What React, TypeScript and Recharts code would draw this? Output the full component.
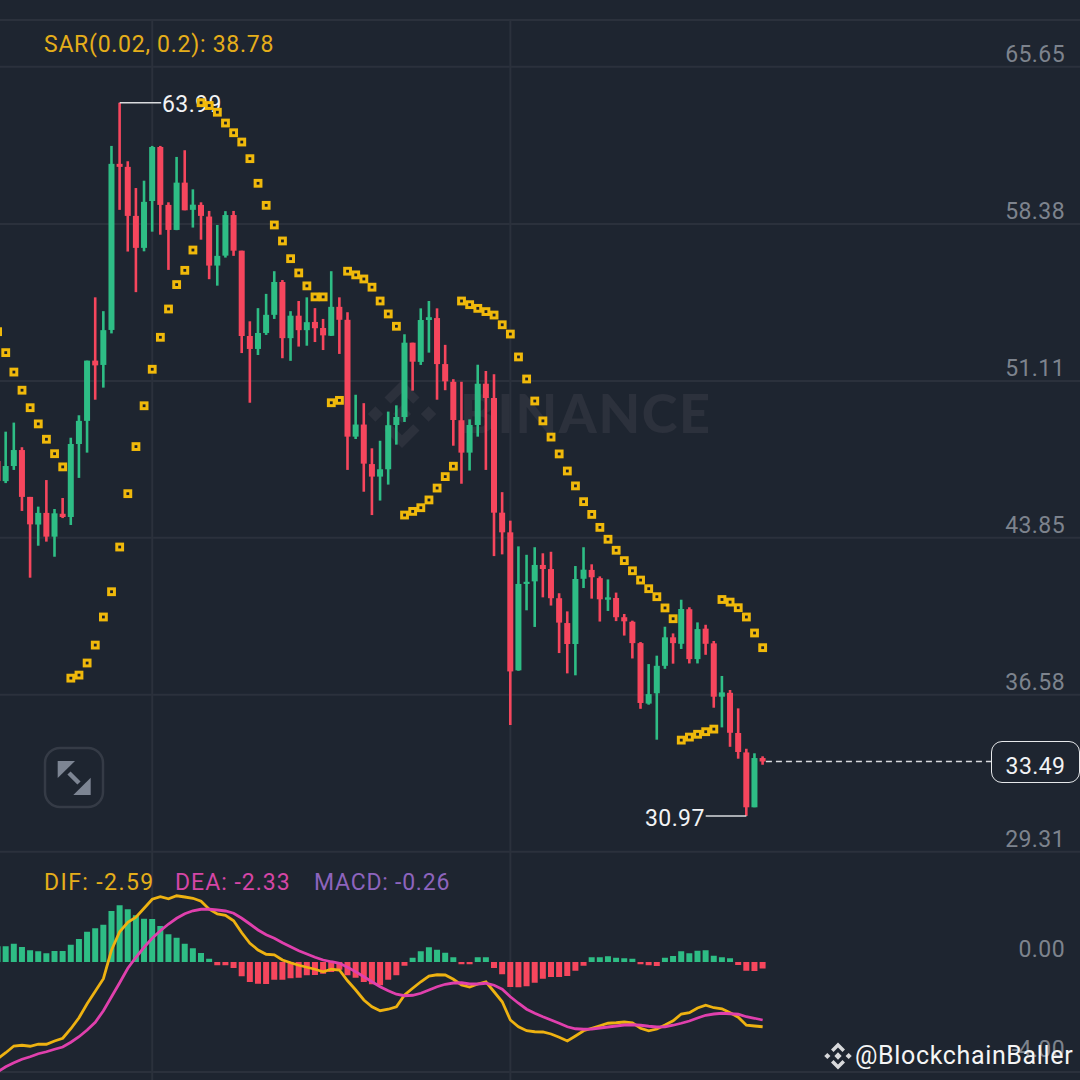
/**
 * Perp candlestick screenshot: price + SAR on top, MACD panel underneath
 */

import React from 'react';
import {
  ComposedChart,
  Bar,
  Cell,
  Line,
  XAxis,
  YAxis,
  CartesianGrid,
  ReferenceLine,
} from 'recharts';

const opens = [
  47.40,
  46.47, 47.17, 47.91, 45.74, 44.46, 45.00, 43.90, 44.96, 44.81,
  48.19, 49.26, 52.05, 51.85, 53.47, 61.16, 61.02, 58.75, 57.27, 59.44,
  61.94, 59.26, 58.10, 60.29, 59.03, 59.26, 58.72, 56.45, 56.91, 58.79,
  57.14, 53.19, 52.59, 53.33, 54.17, 55.69, 53.09, 54.13, 53.46, 53.84,
  53.56, 53.20, 54.54, 53.94, 48.53, 49.09, 47.26, 46.68, 47.02, 49.07,
  49.44, 52.88, 51.99, 53.93, 54.02, 51.89, 51.07, 49.29, 47.79, 49.07,
  50.98, 50.32, 45.01, 44.10, 37.71, 41.71, 41.83, 42.59, 42.40, 41.05,
  39.90, 38.93, 41.95, 42.36, 41.98, 40.98, 41.06, 40.17, 39.96, 38.97,
  36.17, 36.65, 37.92, 39.24, 38.94, 40.54, 38.23, 39.64, 38.96, 36.49,
  36.67, 34.81, 33.91, 31.37, 33.65,
];

const closes = [
  46.48,
  47.17, 47.91, 45.74, 44.47, 45.00, 43.90, 44.98, 44.81, 48.19,
  49.26, 52.05, 51.83, 53.46, 61.16, 61.02, 58.75, 57.27, 59.40, 61.94,
  59.26, 58.10, 60.29, 59.01, 59.27, 58.75, 56.45, 56.90, 58.79, 57.14,
  53.19, 52.59, 53.33, 54.17, 55.69, 53.09, 54.13, 53.46, 53.83, 53.55,
  53.22, 54.54, 53.94, 48.53, 49.09, 47.28, 46.68, 47.02, 49.06, 49.44,
  52.88, 52.00, 53.93, 54.06, 51.89, 51.09, 49.30, 47.79, 49.07, 50.98,
  50.32, 45.01, 44.10, 37.66, 41.71, 41.81, 42.59, 42.40, 41.05, 39.92,
  38.93, 41.94, 42.37, 42.02, 41.00, 41.09, 40.17, 39.98, 38.97, 36.20,
  36.61, 37.92, 39.24, 38.97, 40.55, 38.23, 39.62, 38.94, 36.49, 36.69,
  34.82, 33.93, 31.37, 33.65, 33.49,
];

const highs = [
  47.54,
  48.76, 49.18, 48.04, 45.74, 45.29, 46.52, 45.18, 45.69, 48.48,
  49.52, 52.05, 54.98, 54.34, 61.99, 63.99, 61.28, 60.04, 60.38, 61.99,
  61.99, 59.38, 61.48, 61.79, 59.98, 59.38, 58.98, 58.33, 58.97, 58.98,
  57.14, 53.87, 54.48, 55.14, 56.19, 55.78, 54.34, 54.81, 54.98, 54.48,
  53.98, 56.19, 54.98, 54.29, 50.47, 50.08, 47.99, 48.34, 49.69, 49.98,
  53.27, 52.88, 54.47, 54.81, 54.47, 52.78, 51.19, 51.07, 49.33, 51.86,
  51.57, 51.42, 45.96, 44.64, 43.45, 43.06, 43.41, 43.13, 43.20, 41.28,
  40.44, 42.54, 43.41, 42.62, 42.06, 41.92, 41.31, 40.32, 40.01, 39.02,
  38.00, 38.39, 39.73, 39.42, 40.98, 40.63, 39.93, 39.82, 39.07, 37.45,
  36.80, 35.95, 34.08, 33.87, 33.73,
];

const lows = [
  46.34,
  46.38, 46.99, 45.09, 42.00, 43.48, 43.67, 42.97, 44.76, 44.44,
  46.62, 47.79, 50.24, 50.80, 53.31, 59.03, 57.10, 55.22, 57.11, 58.02,
  57.88, 56.25, 58.09, 59.01, 58.21, 57.65, 55.82, 55.52, 56.82, 56.90,
  52.40, 50.10, 52.31, 53.24, 53.98, 52.16, 52.04, 52.70, 52.74, 52.91,
  52.54, 53.19, 52.36, 46.99, 48.42, 45.98, 44.90, 45.57, 46.31, 48.16,
  49.21, 50.66, 51.85, 52.42, 50.24, 50.68, 48.11, 46.35, 46.96, 48.53,
  46.99, 43.00, 43.08, 35.18, 37.69, 40.49, 39.72, 41.09, 40.71, 38.51,
  37.57, 37.48, 41.52, 41.03, 39.97, 40.46, 39.99, 39.32, 38.26, 35.93,
  36.12, 34.50, 37.78, 38.02, 38.70, 38.03, 38.03, 38.43, 35.98, 35.07,
  34.17, 33.62, 30.97, 31.37, 33.34,
];

const sar = [
  53.39,
  52.42, 51.52, 50.68, 49.87, 49.12, 48.41, 47.74, 47.13, 37.35,
  37.49, 38.05, 38.88, 40.18, 41.35, 43.42, 45.89, 48.07, 49.96, 51.65,
  53.13, 54.44, 55.57, 56.23, 57.17, 63.99, 63.86, 63.55, 63.05, 62.60,
  62.17, 61.40, 60.26, 59.24, 58.33, 57.59, 56.77, 56.11, 55.51, 55.00,
  55.00, 50.10, 50.21, 56.19, 56.02, 55.83, 55.45, 54.81, 54.21, 53.64,
  44.90, 45.07, 45.24, 45.60, 46.15, 46.68, 47.16, 54.81, 54.64, 54.47,
  54.32, 54.16, 53.71, 53.28, 52.22, 51.20, 50.18, 49.26, 48.51, 47.73,
  46.94, 46.25, 45.52, 44.93, 44.33, 43.78, 43.27, 42.79, 42.32, 41.89,
  41.49, 41.12, 40.60, 40.10, 34.48, 34.62, 34.75, 34.87, 34.99, 40.99,
  40.87, 40.61, 40.18, 39.44, 38.76,
];

const macd = [
  0.63,
  0.63, 0.73, 0.60, 0.47, 0.43, 0.35, 0.44, 0.44, 0.69,
  0.92, 1.21, 1.35, 1.49, 2.04, 2.27, 2.11, 1.87, 1.73, 1.72,
  1.44, 1.11, 0.97, 0.73, 0.55, 0.36, 0.13, -0.13, -0.13, -0.24,
  -0.57, -0.80, -0.87, -0.88, -0.71, -0.71, -0.65, -0.63, -0.53, -0.52,
  -0.47, -0.40, -0.31, -0.53, -0.63, -0.80, -0.89, -0.93, -0.71, -0.53,
  -0.15, 0.17, 0.43, 0.59, 0.49, 0.37, 0.19, -0.09, -0.09, 0.19,
  0.19, -0.24, -0.49, -1.00, -1.01, -0.97, -0.83, -0.67, -0.60, -0.60,
  -0.56, -0.35, -0.15, 0.19, 0.19, 0.23, 0.17, 0.15, 0.13, -0.09,
  -0.13, -0.16, 0.17, 0.24, 0.43, 0.35, 0.45, 0.47, 0.25, 0.19,
  0.15, -0.12, -0.35, -0.36, -0.26,
];

const dif = [
  -3.87,
  -3.63, -3.36, -3.33, -3.37, -3.29, -3.29, -3.16, -3.05, -2.67,
  -2.23, -1.67, -1.17, -0.67, 0.48, 1.21, 1.59, 1.79, 2.15, 2.51,
  2.61, 2.53, 2.65, 2.60, 2.55, 2.43, 2.11, 1.92, 1.87, 1.65,
  1.17, 0.75, 0.48, 0.31, 0.29, 0.08, -0.03, -0.13, -0.21, -0.29,
  -0.39, -0.29, -0.32, -0.75, -1.12, -1.52, -1.79, -1.95, -1.89, -1.79,
  -1.32, -1.05, -0.79, -0.56, -0.51, -0.52, -0.69, -0.92, -1.00, -0.88,
  -0.79, -1.19, -1.59, -2.32, -2.59, -2.75, -2.79, -2.80, -2.88, -3.01,
  -3.16, -2.96, -2.75, -2.65, -2.55, -2.45, -2.43, -2.40, -2.43, -2.65,
  -2.75, -2.68, -2.52, -2.35, -2.08, -2.03, -1.84, -1.73, -1.83, -1.87,
  -2.03, -2.21, -2.53, -2.56, -2.59,
];

const dea = [
  -4.39,
  -4.19, -4.03, -3.89, -3.79, -3.67, -3.59, -3.49, -3.40, -3.21,
  -2.99, -2.72, -2.41, -1.95, -1.39, -0.83, -0.25, 0.19, 0.59, 0.95,
  1.25, 1.52, 1.75, 1.93, 2.05, 2.11, 2.11, 2.08, 2.04, 1.95,
  1.75, 1.52, 1.28, 1.09, 0.95, 0.77, 0.61, 0.45, 0.32, 0.19,
  0.08, 0.01, -0.05, -0.21, -0.39, -0.59, -0.79, -0.99, -1.15, -1.29,
  -1.35, -1.33, -1.25, -1.12, -0.99, -0.89, -0.84, -0.83, -0.88, -0.88,
  -0.85, -0.93, -1.09, -1.39, -1.65, -1.89, -2.05, -2.19, -2.32, -2.45,
  -2.59, -2.67, -2.69, -2.68, -2.64, -2.60, -2.56, -2.52, -2.51, -2.53,
  -2.57, -2.60, -2.59, -2.53, -2.45, -2.36, -2.24, -2.13, -2.08, -2.05,
  -2.07, -2.09, -2.19, -2.25, -2.32,
];

const priceTicks = [65.65, 58.38, 51.11, 43.85, 36.58, 29.31];
const priceGrid = [67.82, 65.65, 58.38, 51.11, 43.85, 36.58, 29.31];
const macdTicks = [0, -4];
const macdGrid = [-4.4];
const timeGrid = [19, 63];
const lastPrice = 33.49;
const highPrice = 63.99;
const lowPrice = 30.97;

const rows = opens.map((open, i) => ({
  i,
  open,
  close: closes[i],
  high: highs[i],
  low: lows[i],
  sar: sar[i],
  macd: macd[i],
  dif: dif[i],
  dea: dea[i],
}));

const COLORS = {
  bg: '#1e2530',
  grid: '#2b313c',
  up: '#2ebd85',
  down: '#f6465d',
  sar: '#f0b90b',
  dif: '#eeb211',
  dea: '#e040ad',
  axis: '#7d838d',
};

const FONT = 'Roboto, sans-serif';
const X_DOMAIN: [number, number] = [0.295, 132.99];

function Candle(props: any) {
  const { x, y, width, height, payload } = props;
  const cx = x + width / 2;
  const scale = height / (payload.high - payload.low);
  const top = y + (payload.high - Math.max(payload.open, payload.close)) * scale;
  const bottom = y + (payload.high - Math.min(payload.open, payload.close)) * scale;
  const fill = payload.close >= payload.open ? COLORS.up : COLORS.down;
  return (
    <g>
      <rect x={cx - 1.3} y={y} width={2.6} height={height} fill={fill} />
      <rect x={x} y={top} width={width} height={Math.max(bottom - top, 1.5)} fill={fill} />
    </g>
  );
}

function SarDot(props: any) {
  const { cx, cy, index } = props;
  return (
    <rect
      key={index}
      x={cx - 2.9}
      y={cy - 2.9}
      width={5.8}
      height={5.8}
      fill="#1b1f26"
      stroke={COLORS.sar}
      strokeWidth={3}
    />
  );
}

function AxisTick(props: any) {
  const { y, payload } = props;
  return (
    <text
      x={1065}
      y={y - 13}
      dy="0.36em"
      textAnchor="end"
      fill={COLORS.axis}
      fontFamily={FONT}
      fontSize={23}
      letterSpacing={0.4}
    >
      {payload.value.toFixed(2)}
    </text>
  );
}

function Label({ x, y, color, size = 23, spacing = 0.4, children }: any) {
  return (
    <div
      style={{
        position: 'absolute',
        left: x,
        top: y - 19,
        height: 40,
        lineHeight: '40px',
        color,
        fontFamily: FONT,
        fontSize: size,
        letterSpacing: spacing,
        whiteSpace: 'nowrap',
      }}
    >
      {children}
    </div>
  );
}

function BinanceMark({ cx, cy, s, fill }: any) {
  const pts = (list: number[][]) => list.map(([a, b]) => `${cx + a * s},${cy + b * s}`).join(' ');
  const diamond = (ox: number, r: number) =>
    pts([[ox, -r], [ox + r, 0], [ox, r], [ox - r, 0]]);
  return (
    <g fill={fill}>
      <polygon points={diamond(0, 0.26)} />
      <polygon points={diamond(-0.76, 0.22)} />
      <polygon points={diamond(0.76, 0.22)} />
      <polygon points={pts([[0, -0.97], [0.5, -0.47], [0.32, -0.29], [0, -0.61], [-0.32, -0.29], [-0.5, -0.47]])} />
      <polygon points={pts([[0, 0.97], [0.5, 0.47], [0.32, 0.29], [0, 0.61], [-0.32, 0.29], [-0.5, 0.47]])} />
    </g>
  );
}

export default function App() {
  return (
    <div
      style={{
        position: 'absolute',
        left: 0,
        top: 0,
        width: 1080,
        height: 1080,
        overflow: 'hidden',
        background: COLORS.bg,
      }}
    >
      {/* behind the candles: exchange watermark and the extreme price labels */}
      <svg width={1080} height={1080} style={{ position: 'absolute', left: 0, top: 0 }}>
        <BinanceMark cx={402} cy={414} s={35} fill="#2c313c" />
        <text
          x={460}
          y={433}
          fill="#2c313c"
          fontFamily="Lato, sans-serif"
          fontWeight={900}
          fontSize={54}
          textLength={250}
          lengthAdjust="spacing"
        >
          BINANCE
        </text>
      </svg>
      <Label x={162} y={104} color="#f2f3f5">{highPrice.toFixed(2)}</Label>
      <Label x={645} y={818} color="#f2f3f5">{lowPrice.toFixed(2)}</Label>

      <div style={{ position: 'absolute', left: 0, top: 19 }}>
        <ComposedChart
          width={1080}
          height={835}
          data={rows}
          margin={{ top: 1, right: 0, bottom: 2, left: 0 }}
        >
          <CartesianGrid
            stroke={COLORS.grid}
            strokeWidth={2}
            horizontalValues={priceGrid}
            verticalValues={timeGrid}
          />
          <XAxis type="number" dataKey="i" domain={X_DOMAIN} allowDataOverflow hide />
          <YAxis
            orientation="right"
            mirror
            domain={[29.3, 67.82]}
            allowDataOverflow
            ticks={priceTicks}
            interval={0}
            axisLine={false}
            tickLine={false}
            tick={AxisTick}
          />

          <ReferenceLine
            segment={[{ x: 15, y: highPrice }, { x: 20.1, y: highPrice }]}
            stroke="#d9dbde"
            strokeWidth={1.5}
          />
          <ReferenceLine
            segment={[{ x: 87, y: lowPrice }, { x: 92, y: lowPrice }]}
            stroke="#d9dbde"
            strokeWidth={1.5}
          />
          <ReferenceLine
            segment={[{ x: 94.4, y: lastPrice }, { x: 122.1, y: lastPrice }]}
            stroke="#d9dbde"
            strokeWidth={1.5}
            strokeDasharray="6 4"
          />

          <Bar
            dataKey={(d: any) => [d.low, d.high]}
            barSize={6}
            shape={Candle}
            isAnimationActive={false}
          />
          <Line
            dataKey="sar"
            stroke="none"
            dot={SarDot}
            activeDot={false}
            isAnimationActive={false}
          />
        </ComposedChart>
      </div>

      <div style={{ position: 'absolute', left: 0, top: 852 }}>
        <ComposedChart
          width={1080}
          height={228}
          data={rows}
          margin={{ top: 0, right: 0, bottom: 0, left: 0 }}
        >
          <CartesianGrid
            stroke={COLORS.grid}
            strokeWidth={2}
            horizontalValues={macdGrid}
            verticalValues={timeGrid}
          />
          <XAxis type="number" dataKey="i" domain={X_DOMAIN} allowDataOverflow hide />
          <YAxis
            orientation="right"
            mirror
            domain={[-4.72, 4.4]}
            allowDataOverflow
            ticks={macdTicks}
            interval={0}
            axisLine={false}
            tickLine={false}
            tick={AxisTick}
          />
          <Bar dataKey="macd" barSize={6} isAnimationActive={false}>
            {rows.map((r) => (
              <Cell key={r.i} fill={r.macd >= 0 ? COLORS.up : COLORS.down} />
            ))}
          </Bar>
          <Line
            type="linear"
            dataKey="dif"
            stroke={COLORS.dif}
            strokeWidth={2.8}
            dot={false}
            isAnimationActive={false}
          />
          <Line
            type="linear"
            dataKey="dea"
            stroke={COLORS.dea}
            strokeWidth={2.8}
            dot={false}
            isAnimationActive={false}
          />
        </ComposedChart>
      </div>

      <Label x={44} y={44} color="#e5ae1a" spacing={0.73}>SAR(0.02, 0.2): 38.78</Label>
      <Label x={44} y={882} color="#e5ae1a" spacing={1.4}>DIF: -2.59</Label>
      <Label x={175} y={882} color="#d546a6" spacing={1}>DEA: -2.33</Label>
      <Label x={314} y={882} color="#8d64bd" spacing={0.76}>MACD: -0.26</Label>

      {/* last price tag, expand button, author tag */}
      <div
        style={{
          position: 'absolute',
          left: 991,
          top: 741,
          width: 87,
          height: 40,
          border: '1.5px solid #e6e8ea',
          borderRadius: 11,
          background: COLORS.bg,
          color: '#f2f3f5',
          fontFamily: FONT,
          fontSize: 23,
          letterSpacing: 0.4,
          lineHeight: '49px',
          textAlign: 'center',
        }}
      >
        {lastPrice.toFixed(2)}
      </div>

      <svg width={1080} height={1080} style={{ position: 'absolute', left: 0, top: 0 }}>
        <rect x={45} y={748} width={58} height={59} rx={15} fill="none" stroke="#353b46" strokeWidth={2.5} />
        <g fill="#7d8593" stroke="#7d8593">
          <polygon points="57.7,761 75,761 57.7,778" strokeWidth={0} />
          <polygon points="90.7,777.7 90.7,795 73.3,795" strokeWidth={0} />
          <line x1={69} y1={773} x2={79} y2={783} strokeWidth={4.5} />
        </g>
        <BinanceMark cx={838} cy={1056} s={14} fill="#d8d9db" />
      </svg>
      <Label x={855} y={1055} color="#f5f5f5" size={25} spacing={0.65}>@BlockchainBaller</Label>
    </div>
  );
}
